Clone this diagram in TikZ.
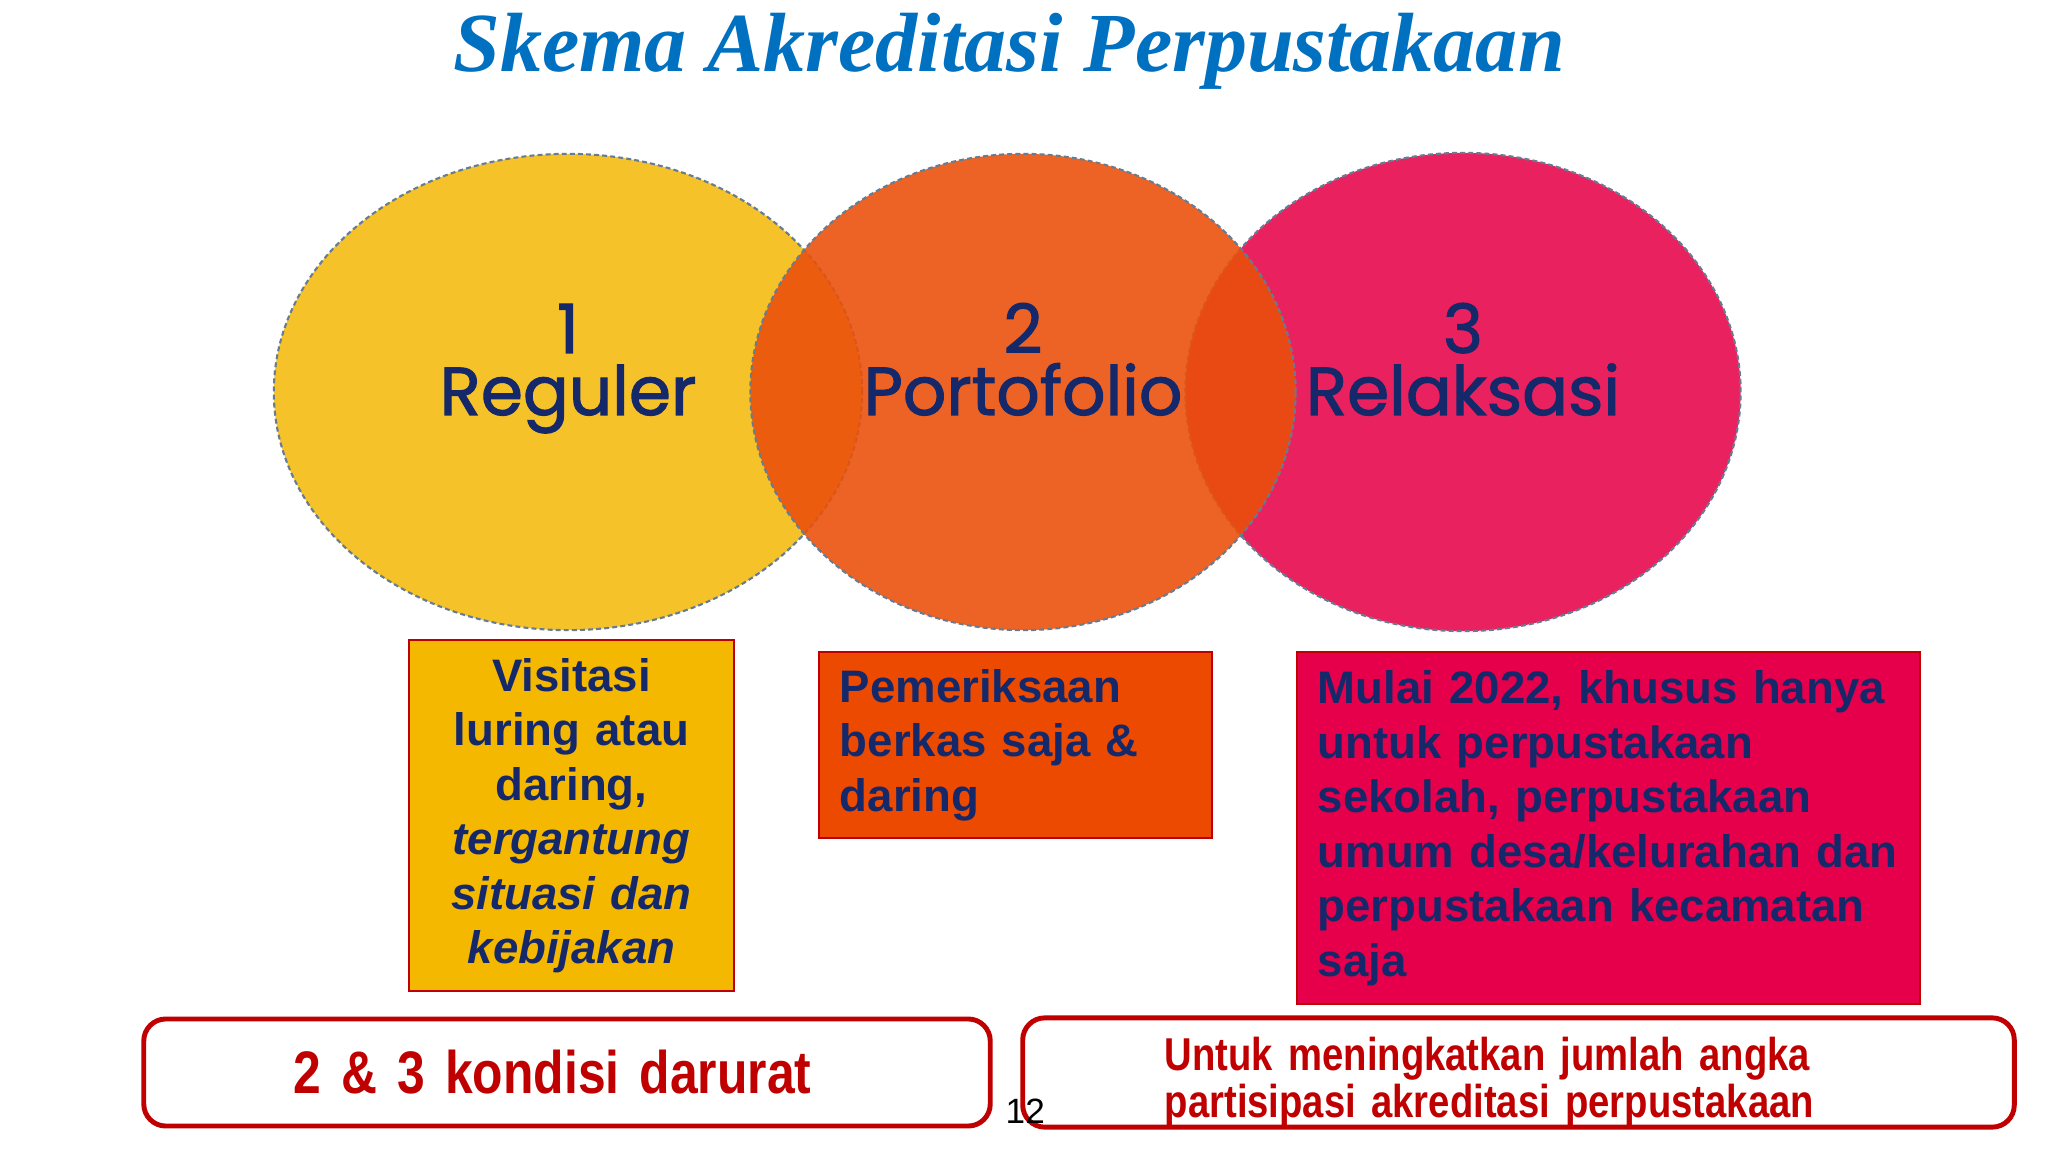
\documentclass[tikz,border=0pt]{standalone}
\usepackage{fontspec}
\usepackage{xcolor}
\usepackage{tikz}
\usetikzlibrary{shapes.geometric}
\usetikzlibrary{positioning}
\setmainfont{Liberation Sans}
\newfontfamily\titlefont{Liberation Serif}
\newfontfamily\roundfont[FakeBold=1.6]{Poppins}
\newfontfamily\narrowfont[FakeStretch=0.83, WordSpace=0.6]{Liberation Sans}
\definecolor{titleblue}{HTML}{0070C0}
\definecolor{navy}{HTML}{15296A}
\definecolor{venngray}{HTML}{667C93}
\definecolor{reguleryellow}{HTML}{F6C22A}
\definecolor{portoorange}{HTML}{EA500B}
\definecolor{relakspink}{HTML}{E9215F}
\definecolor{boxyellow}{HTML}{F5B800}
\definecolor{boxorange}{HTML}{EB4A00}
\definecolor{boxpink}{HTML}{E6004B}
\definecolor{darkred}{HTML}{C00000}
\tikzstyle{venn} = [ellipse, draw=venngray, line width=0.6pt,
dash pattern=on 1.4pt off 0.9pt, inner sep=0pt]
\tikzstyle{vennlabel} = [text=navy, anchor=base, inner sep=0pt,
font=\roundfont\fontsize{19.3}{19.3}\selectfont]
\tikzstyle{infobox} = [draw=darkred, line width=0.4pt, rectangle,
inner xsep=0.21cm, text=navy, font=\bfseries\fontsize{12.95}{15.5}\selectfont]
\tikzstyle{notebox} = [draw=darkred, line width=1.4pt, fill=white,
rectangle, rounded corners=0.22cm, minimum height=1.07cm, text=darkred]

\begin{document}
\begin{tikzpicture}[x=0.01cm, y=-0.01cm]
        \fill[white] (0,0) rectangle (2048,1152);
        \useasboundingbox (0,0) rectangle (2048,1152);
        \node[anchor=base, text=titleblue,
            font=\titlefont\bfseries\itshape\fontsize{23.9}{23.9}\selectfont]
            (title) at (1009,72) {Skema Akreditasi Perpustakaan};

        \node[venn, fill=reguleryellow, minimum width=5.88cm, minimum height=4.76cm] (reguler) at (568,392) {};
        \node[venn, fill=relakspink, minimum width=5.55cm, minimum height=4.78cm] (relaksasi) at (1463,392) {};
        \node[venn, fill=portoorange, fill opacity=0.89, minimum width=5.45cm, minimum height=4.76cm] (portofolio) at (1023,392) {};

        \foreach \cx/\num/\name in {568/1/Reguler, 1023/2/Portofolio, 1463/3/Relaksasi}{
            \node[vennlabel] (num\num) at (\cx,353) {\num};
            \node[vennlabel] (name\num) at (\cx,415) {\name};
        }

        \node[infobox, fill=boxyellow, minimum width=3.25cm, minimum height=3.51cm,
            text width=2.83cm, align=center] (visitasi) at (571.5,815.5) {%
            Visitasi\\
            luring atau\\
            daring,\\
            \textit{tergantung}\\
            \textit{situasi dan}\\
            \textit{kebijakan}};
        \node[infobox, fill=boxorange, minimum width=3.93cm, minimum height=1.86cm,
            text width=3.51cm, align=left] (pemeriksaan) at (1015.5,745) {%
            Pemeriksaan\\
            berkas saja \&\\
            daring};
        \node[infobox, fill=boxpink, minimum width=6.23cm, minimum height=3.52cm,
            text width=5.81cm, align=left] (mulai) at (1608.5,828) {%
            Mulai 2022, khusus hanya\\
            untuk perpustakaan\\
            sekolah, perpustakaan\\
            umum desa/kelurahan dan\\
            perpustakaan kecamatan\\
            saja};

        \node[notebox, minimum width=8.46cm, text width=5.46cm, inner xsep=1.5cm, align=left,
            font=\narrowfont\bfseries\fontsize{17.07}{17.07}\selectfont]
            (darurat) at (567,1072.5) {2 \& 3 kondisi darurat};
        \node[notebox, minimum width=9.91cm, text width=7.07cm, inner xsep=1.42cm, inner ysep=0pt, align=left,
            text height=0.53cm, font=\narrowfont\bfseries\fontsize{13.1}{11.95}\selectfont]
            (tujuan) at (1518.5,1072.5) {%
            Untuk meningkatkan jumlah angka\\
            partisipasi akreditasi perpustakaan};

        \node[anchor=base west, inner sep=0pt, font=\fontsize{10}{10}\selectfont]
            (halaman) at (1005,1123) {12};
    \end{tikzpicture}
\end{document}
